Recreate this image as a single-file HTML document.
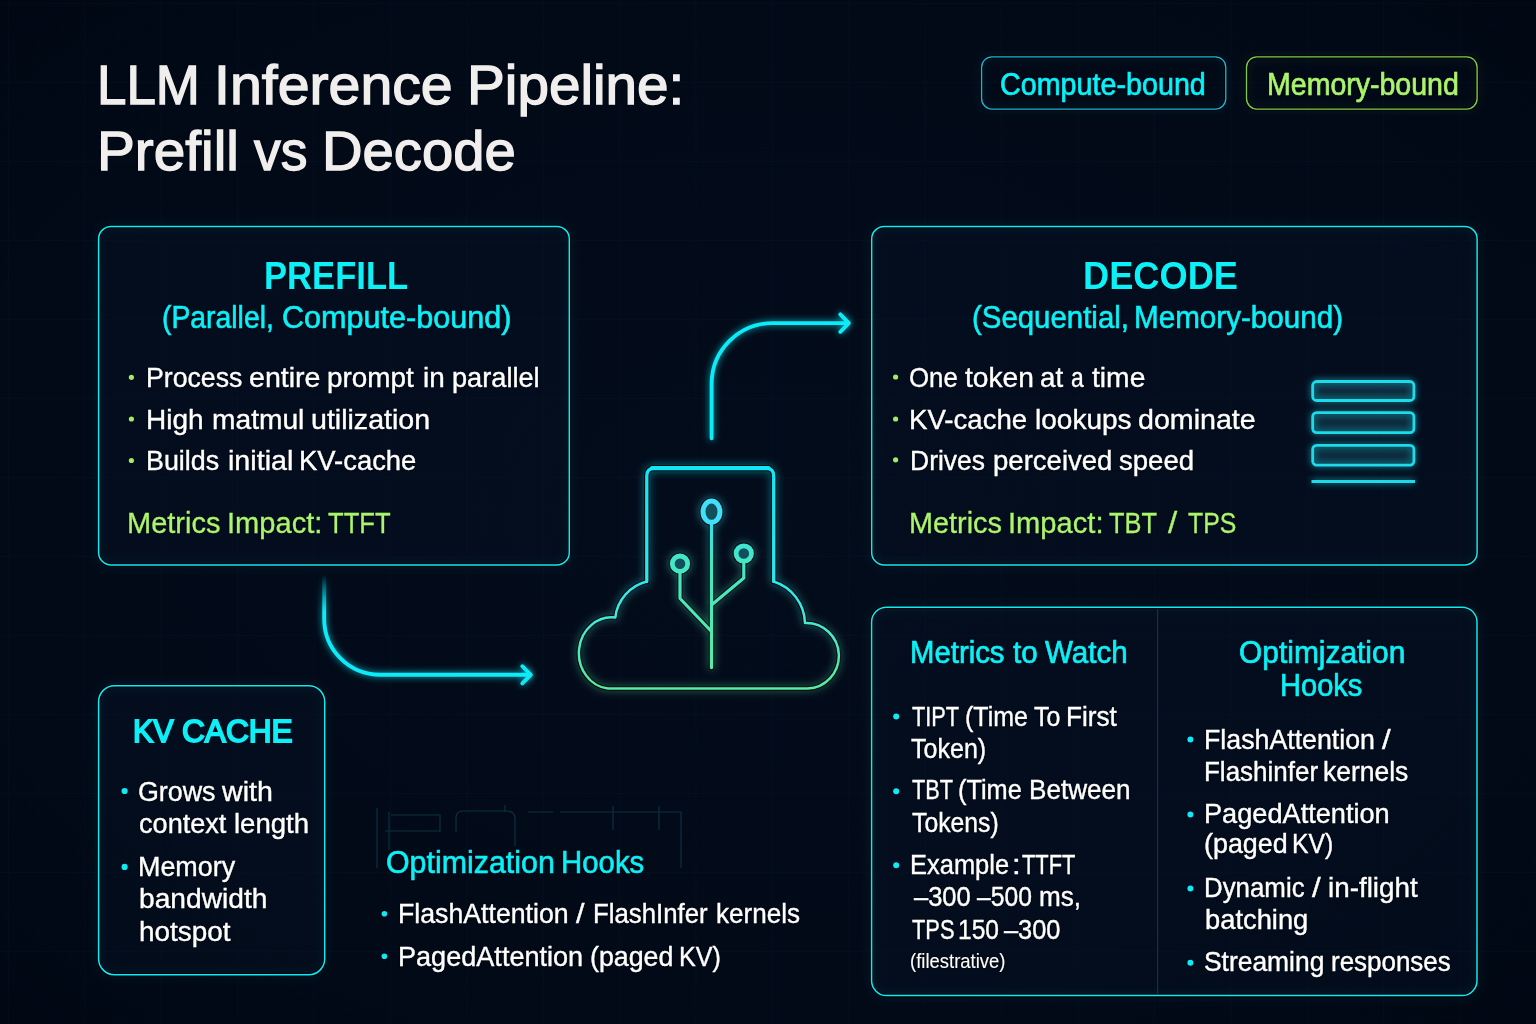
<!DOCTYPE html>
<html lang="en">
<head>
<meta charset="utf-8">
<title>LLM Inference Pipeline: Prefill vs Decode</title>
<style>
html,body{margin:0;padding:0;}
body{width:1536px;height:1024px;overflow:hidden;background:#020a18;position:relative;
  font-family:"Liberation Sans",sans-serif;}
#bg{position:absolute;left:0;top:0;width:1536px;height:1024px;
  background:
   linear-gradient(to right, rgba(30,110,170,.035) 1px, transparent 1px) 8px 0/76.4px 100%,
   linear-gradient(to bottom, rgba(30,110,170,.035) 1px, transparent 1px) 0 3px/100% 79px,
   radial-gradient(ellipse at 50% 50%, #030c1b 0%, #020a18 65%, #010814 100%);}
svg#art{position:absolute;left:0;top:0;width:1536px;height:1024px;overflow:visible}
.ln{position:absolute;left:0;width:1536px;height:0;white-space:pre;line-height:1;}
.ln span{position:absolute;top:0;white-space:pre;line-height:1;transform-origin:0 0;
  text-shadow:0 0 1.5px rgba(0,0,0,.9),0 0 2px rgba(0,0,0,.6);}
</style>
</head>
<body>
<div id="bg"></div>
<svg id="art" width="1536" height="1024" viewBox="0 0 1536 1024">
  <defs>
    <filter id="soft" x="-10%" y="-10%" width="120%" height="120%">
      <feGaussianBlur stdDeviation="4"/>
      <feComponentTransfer><feFuncA type="linear" slope=".2"/></feComponentTransfer>
    </filter>
    <filter id="halo" x="-30%" y="-30%" width="160%" height="160%">
      <feGaussianBlur stdDeviation="4"/>
      <feComponentTransfer><feFuncA type="linear" slope=".6"/></feComponentTransfer>
    </filter>
    <filter id="glow2" x="-30%" y="-30%" width="160%" height="160%">
      <feGaussianBlur stdDeviation="3.5" result="b"/>
      <feComponentTransfer in="b" result="b2"><feFuncA type="linear" slope=".8"/></feComponentTransfer>
      <feMerge><feMergeNode in="b2"/><feMergeNode in="SourceGraphic"/></feMerge>
    </filter>
    <linearGradient id="cg" gradientUnits="userSpaceOnUse" x1="0" y1="467" x2="0" y2="689">
      <stop offset="0" stop-color="#10e8f8"/>
      <stop offset=".5" stop-color="#2ce8ee"/>
      <stop offset=".7" stop-color="#48e8d4"/>
      <stop offset=".85" stop-color="#52e8b4"/>
      <stop offset="1" stop-color="#5aeaa0"/>
    </linearGradient>
    <linearGradient id="tg" gradientUnits="userSpaceOnUse" x1="0" y1="520" x2="0" y2="668">
      <stop offset="0" stop-color="#30e2f2"/>
      <stop offset=".25" stop-color="#44e6c8"/>
      <stop offset="1" stop-color="#5aeaa4"/>
    </linearGradient>
    <linearGradient id="fade" gradientUnits="userSpaceOnUse" x1="0" y1="575" x2="0" y2="612">
      <stop offset="0" stop-color="#0ceaf8" stop-opacity="0"/>
      <stop offset="1" stop-color="#0ceaf8" stop-opacity="1"/>
    </linearGradient>
  </defs>

  <!-- ghost art -->
  <g fill="none" stroke="#1d6f80" stroke-width="1.2" opacity=".38">
    <path d="M377 808 V868 M389 812 V850 M391 815 H440 V832 M385 831 H440 M456 832 V818 Q456 811 463 811 H507 Q515 811 515 819 V846 M505 805 V812 M528 812 H553 M560 812 H681 V868 M613 806 V830 M659 806 V830"/>
  </g>

  <!-- panels -->
  <g fill="rgba(8,22,42,.28)">
    <rect x="98.6" y="226.45" width="470.7" height="338.5" rx="12.5"/>
    <rect x="871.7" y="226.45" width="605.4" height="338.5" rx="12.5"/>
    <rect x="98.6" y="685.7" width="226.1" height="289.1" rx="16"/>
    <rect x="871.6" y="607.2" width="605.4" height="388.4" rx="15"/>
  </g>
  <g fill="none" stroke="#10e6f2" stroke-width="2" filter="url(#soft)">
    <rect x="98.6" y="226.45" width="470.7" height="338.5" rx="12.5"/>
    <rect x="871.7" y="226.45" width="605.4" height="338.5" rx="12.5"/>
    <rect x="98.6" y="685.7" width="226.1" height="289.1" rx="16"/>
    <rect x="871.6" y="607.2" width="605.4" height="388.4" rx="15"/>
  </g>
  <g fill="none" stroke="#000308" stroke-opacity=".9" stroke-width="3.6">
    <rect x="98.6" y="226.45" width="470.7" height="338.5" rx="12.5"/>
    <rect x="871.7" y="226.45" width="605.4" height="338.5" rx="12.5"/>
    <rect x="98.6" y="685.7" width="226.1" height="289.1" rx="16"/>
    <rect x="871.6" y="607.2" width="605.4" height="388.4" rx="15"/>
  </g>
  <g fill="none" stroke="#0cecf6" stroke-width="1.5">
    <rect x="98.6" y="226.45" width="470.7" height="338.5" rx="12.5"/>
    <rect x="871.7" y="226.45" width="605.4" height="338.5" rx="12.5"/>
    <rect x="98.6" y="685.7" width="226.1" height="289.1" rx="16"/>
    <rect x="871.6" y="607.2" width="605.4" height="388.4" rx="15"/>
  </g>
  <line x1="1157.6" y1="609" x2="1157.6" y2="994" stroke="#0f3244" stroke-width="1.2"/>

  <!-- badges -->
  <g fill="none" stroke-width="2" filter="url(#soft)">
    <rect x="981.6" y="56.8" width="244.2" height="52.3" rx="10.5" stroke="#16b6d4"/>
    <rect x="1246.5" y="56.8" width="230.6" height="52.3" rx="10.5" stroke="#80cc4a"/>
  </g>
  <g fill="none" stroke="#000308" stroke-opacity=".85" stroke-width="3.4">
    <rect x="981.6" y="56.8" width="244.2" height="52.3" rx="10.5"/>
    <rect x="1246.5" y="56.8" width="230.6" height="52.3" rx="10.5"/>
  </g>
  <g fill="none" stroke-width="1.35">
    <rect x="981.6" y="56.8" width="244.2" height="52.3" rx="10.5" stroke="#16b6d4"/>
    <rect x="1246.5" y="56.8" width="230.6" height="52.3" rx="10.5" stroke="#80cc4a"/>
  </g>

  <!-- bullets -->
  <g fill="#a2ec64" stroke="#000510" stroke-opacity=".7" stroke-width="1" paint-order="stroke">
    <circle cx="131.4" cy="377.3" r="2.6"/><circle cx="131.4" cy="419" r="2.6"/><circle cx="131.4" cy="460.5" r="2.6"/>
    <circle cx="895.6" cy="377" r="2.6"/><circle cx="895.6" cy="419" r="2.6"/><circle cx="895.6" cy="459.8" r="2.6"/>
  </g>
  <g fill="#10eaf6" stroke="#000510" stroke-opacity=".7" stroke-width="1" paint-order="stroke">
    <circle cx="124.6" cy="791" r="3.1"/><circle cx="124.6" cy="866.9" r="3.1"/>
    <circle cx="384.4" cy="913.8" r="2.8"/><circle cx="384.4" cy="956.3" r="2.8"/>
    <circle cx="896.2" cy="716.6" r="3"/><circle cx="896.2" cy="791.3" r="3"/><circle cx="896.2" cy="865.3" r="3"/>
    <circle cx="1190.4" cy="739.4" r="3"/><circle cx="1190.4" cy="814.5" r="3"/><circle cx="1190.4" cy="888.5" r="3"/><circle cx="1190.4" cy="962.8" r="3"/>
  </g>

  <!-- arrows -->
  <g fill="none" stroke="#0ceaf8" stroke-width="3.9" stroke-linecap="round" stroke-linejoin="round" filter="url(#glow2)">
    <path d="M711.6 438.2 V384 A61 61 0 0 1 772.6 323.1 H848"/>
    <path d="M840.3 314.4 L848.8 323.1 L840.3 331.8"/>
    <path d="M522.3 666.2 L530.8 674.8 L522.3 683.4"/>
  </g>
  <path d="M324.2 575 V619 A55.8 55.8 0 0 0 380 674.8 H530" fill="none" stroke="url(#fade)" stroke-width="3.9" stroke-linecap="butt" filter="url(#glow2)"/>

  <!-- stack icon -->
  <g fill="rgba(20,70,90,.35)" stroke="#1adcec" stroke-width="2.8" filter="url(#glow2)">
    <rect x="1312.7" y="381.5" width="101.2" height="19" rx="4"/>
    <rect x="1312.7" y="412.6" width="101.2" height="20" rx="4"/>
    <rect x="1312.7" y="445.4" width="101.2" height="19.7" rx="4"/>
    <path d="M1311.5 481.5 H1415"/>
  </g>

  <!-- cloud icon -->
  <g fill="none" stroke="url(#cg)" stroke-linecap="round" stroke-linejoin="round" filter="url(#halo)">
    <path d="M646.8 581.5 V476 Q646.8 468.1 654.7 468.1 H765.8 Q773.7 468.1 773.7 476 V581.5" stroke-width="4.3"/>
    <path d="M652 468.1 H768.5" stroke-width="5.1"/>
    <path d="M773.7 581.5 A45 45 0 0 1 805 623 A32.6 32.8 0 0 1 807.5 688.6 H608 A32.6 35.6 0 0 1 615.3 617.5 A42 42 0 0 1 646.8 581.5" stroke-width="3.5"/>
    <path d="M711.5 523 V667.5" stroke-width="4.3" stroke="url(#tg)"/>
    <path d="M680 573 V598.5 L711.5 631.5" stroke-width="4.2" stroke="url(#tg)"/>
    <path d="M743.8 563 V578 L711.5 605" stroke-width="4.2" stroke="url(#tg)"/>
    <ellipse cx="711.5" cy="511.7" rx="8.5" ry="10.6" stroke-width="6.0" stroke="#3fe0f8"/>
    <circle cx="680" cy="563.7" r="7.7" stroke-width="5.8" stroke="url(#tg)"/>
    <circle cx="743.8" cy="553.5" r="7.7" stroke-width="5.8" stroke="url(#tg)"/>
  </g>
  <g fill="none" stroke="#00040a" stroke-opacity=".75" stroke-linecap="round" stroke-linejoin="round">
    <path d="M646.8 581.5 V476 Q646.8 468.1 654.7 468.1 H765.8 Q773.7 468.1 773.7 476 V581.5" stroke-width="5.5"/>
    <path d="M652 468.1 H768.5" stroke-width="6.3"/>
    <path d="M773.7 581.5 A45 45 0 0 1 805 623 A32.6 32.8 0 0 1 807.5 688.6 H608 A32.6 35.6 0 0 1 615.3 617.5 A42 42 0 0 1 646.8 581.5" stroke-width="4.7"/>
    <path d="M711.5 523 V667.5" stroke-width="5.5"/>
    <path d="M680 573 V598.5 L711.5 631.5" stroke-width="5.4"/>
    <path d="M743.8 563 V578 L711.5 605" stroke-width="5.4"/>
    <ellipse cx="711.5" cy="511.7" rx="8.5" ry="10.6" stroke-width="7.2"/>
    <circle cx="680" cy="563.7" r="7.7" stroke-width="7.0"/>
    <circle cx="743.8" cy="553.5" r="7.7" stroke-width="7.0"/>
  </g>
  <g fill="none" stroke="url(#cg)" stroke-linecap="round" stroke-linejoin="round">
    <path d="M646.8 581.5 V476 Q646.8 468.1 654.7 468.1 H765.8 Q773.7 468.1 773.7 476 V581.5" stroke-width="3.3"/>
    <path d="M652 468.1 H768.5" stroke-width="4.1"/>
    <path d="M773.7 581.5 A45 45 0 0 1 805 623 A32.6 32.8 0 0 1 807.5 688.6 H608 A32.6 35.6 0 0 1 615.3 617.5 A42 42 0 0 1 646.8 581.5" stroke-width="2.5"/>
    <path d="M711.5 523 V667.5" stroke-width="3.3" stroke="url(#tg)"/>
    <path d="M680 573 V598.5 L711.5 631.5" stroke-width="3.2" stroke="url(#tg)"/>
    <path d="M743.8 563 V578 L711.5 605" stroke-width="3.2" stroke="url(#tg)"/>
    <ellipse cx="711.5" cy="511.7" rx="8.5" ry="10.6" stroke-width="5.0" stroke="#3fe0f8" fill="#124e5c"/>
    <circle cx="680" cy="563.7" r="7.7" stroke-width="4.8" fill="#124e5c" stroke="url(#tg)"/>
    <circle cx="743.8" cy="553.5" r="7.7" stroke-width="4.8" fill="#124e5c" stroke="url(#tg)"/>
  </g>
</svg>
<div class="ln" style="top:57px;font-size:56.4px;color:#f1efee;-webkit-text-stroke:1.35px #f1efee;"><span style="left:97.15px;transform:scaleX(0.9382)">LLM</span> <span style="left:214.04px;transform:scaleX(1.0153)">Inference</span> <span style="left:467.08px;transform:scaleX(1.0048)">Pipeline:</span></div>
<div class="ln" style="top:123px;font-size:56.4px;color:#f1efee;-webkit-text-stroke:1.35px #f1efee;"><span style="left:96.98px;transform:scaleX(1.0060)">Prefill</span> <span style="left:254.45px;transform:scaleX(0.9482)">vs</span> <span style="left:322.01px;transform:scaleX(0.9968)">Decode</span></div>
<div class="ln" style="top:69px;font-size:31.4px;color:#08f2fa;-webkit-text-stroke:0.7px #08f2fa;"><span style="left:1000.29px;transform:scaleX(0.9143)">Compute-bound</span></div>
<div class="ln" style="top:69px;font-size:31.4px;color:#aaf46e;-webkit-text-stroke:0.7px #aaf46e;"><span style="left:1267.38px;transform:scaleX(0.9087)">Memory-bound</span></div>
<div class="ln" style="top:256px;font-size:39.3px;font-weight:700;color:#0cf0f8;"><span style="left:264.34px;transform:scaleX(0.8807)">PREFILL</span></div>
<div class="ln" style="top:302px;font-size:30.6px;color:#0cf0f8;-webkit-text-stroke:0.6px #0cf0f8;"><span style="left:161.87px;transform:scaleX(0.9263)">(Parallel,</span> <span style="left:281.80px;transform:scaleX(0.9996)">Compute-bound)</span></div>
<div class="ln" style="top:363px;font-size:28.3px;color:#ffffff;-webkit-text-stroke:0.4px #ffffff;"><span style="left:146.21px;transform:scaleX(0.9430)">Process</span> <span style="left:249.29px;transform:scaleX(1.0101)">entire</span> <span style="left:327.12px;transform:scaleX(0.9841)">prompt</span> <span style="left:422.72px;transform:scaleX(0.9850)">in</span> <span style="left:452.24px;transform:scaleX(0.9607)">parallel</span></div>
<div class="ln" style="top:405px;font-size:28.3px;color:#ffffff;-webkit-text-stroke:0.4px #ffffff;"><span style="left:146.12px;transform:scaleX(0.9891)">High</span> <span style="left:211.80px;transform:scaleX(0.9956)">matmul</span> <span style="left:311.19px;transform:scaleX(1.0095)">utilization</span></div>
<div class="ln" style="top:446px;font-size:28.3px;color:#ffffff;-webkit-text-stroke:0.4px #ffffff;"><span style="left:146.20px;transform:scaleX(0.9493)">Builds</span> <span style="left:227.69px;transform:scaleX(1.0129)">initial</span> <span style="left:298.96px;transform:scaleX(0.9689)">KV-cache</span></div>
<div class="ln" style="top:509px;font-size:28.8px;color:#aaf46e;-webkit-text-stroke:0.3px #aaf46e;"><span style="left:126.99px;transform:scaleX(1.0067)">Metrics</span> <span style="left:227.38px;transform:scaleX(1.0100)">Impact:</span> <span style="left:328.40px;transform:scaleX(0.8886)">TTFT</span></div>
<div class="ln" style="top:256px;font-size:39.3px;font-weight:700;color:#0cf0f8;"><span style="left:1082.96px;transform:scaleX(0.9218)">DECODE</span></div>
<div class="ln" style="top:302px;font-size:30.6px;color:#0cf0f8;-webkit-text-stroke:0.6px #0cf0f8;"><span style="left:972.04px;transform:scaleX(0.9613)">(Sequential,</span> <span style="left:1134.26px;transform:scaleX(0.9685)">Memory-bound)</span></div>
<div class="ln" style="top:363px;font-size:28.3px;color:#ffffff;-webkit-text-stroke:0.4px #ffffff;"><span style="left:909.39px;transform:scaleX(0.9115)">One</span> <span style="left:964.70px;transform:scaleX(0.9956)">token</span> <span style="left:1039.92px;transform:scaleX(0.9783)">at</span> <span style="left:1070.79px;transform:scaleX(0.8067)">a</span> <span style="left:1091.90px;transform:scaleX(0.9981)">time</span></div>
<div class="ln" style="top:405px;font-size:28.3px;color:#ffffff;-webkit-text-stroke:0.4px #ffffff;"><span style="left:909.45px;transform:scaleX(0.9756)">KV-cache</span> <span style="left:1034.91px;transform:scaleX(0.9906)">lookups</span> <span style="left:1137.99px;transform:scaleX(1.0113)">dominate</span></div>
<div class="ln" style="top:446px;font-size:28.3px;color:#ffffff;-webkit-text-stroke:0.4px #ffffff;"><span style="left:909.83px;transform:scaleX(0.9359)">Drives</span> <span style="left:993.13px;transform:scaleX(0.9733)">perceived</span> <span style="left:1119.40px;transform:scaleX(0.9737)">speed</span></div>
<div class="ln" style="top:509px;font-size:28.8px;color:#aaf46e;-webkit-text-stroke:0.3px #aaf46e;"><span style="left:908.80px;transform:scaleX(1.0011)">Metrics</span> <span style="left:1007.58px;transform:scaleX(1.0111)">Impact:</span> <span style="left:1108.50px;transform:scaleX(0.8815)">TBT</span> <span style="left:1167.55px;transform:scaleX(1.1500)">/</span> <span style="left:1187.60px;transform:scaleX(0.8618)">TPS</span></div>
<div class="ln" style="top:716px;font-size:31.6px;color:#0cf0f8;-webkit-text-stroke:1.8px #0cf0f8;"><span style="left:133.03px;transform:scaleX(0.9667)">KV</span> <span style="left:182.40px;transform:scaleX(1.0009)">CACHE</span></div>
<div class="ln" style="top:777px;font-size:28.4px;color:#ffffff;-webkit-text-stroke:0.4px #ffffff;"><span style="left:138.16px;transform:scaleX(0.9450)">Grows</span> <span style="left:222.20px;transform:scaleX(1.0061)">with</span></div>
<div class="ln" style="top:809px;font-size:28.4px;color:#ffffff;-webkit-text-stroke:0.4px #ffffff;"><span style="left:138.65px;transform:scaleX(0.9549)">context</span> <span style="left:233.73px;transform:scaleX(0.9707)">length</span></div>
<div class="ln" style="top:852px;font-size:28.4px;color:#ffffff;-webkit-text-stroke:0.4px #ffffff;"><span style="left:138.30px;transform:scaleX(0.9475)">Memory</span></div>
<div class="ln" style="top:884px;font-size:28.4px;color:#ffffff;-webkit-text-stroke:0.4px #ffffff;"><span style="left:139.21px;transform:scaleX(0.9921)">bandwidth</span></div>
<div class="ln" style="top:917px;font-size:28.4px;color:#ffffff;-webkit-text-stroke:0.4px #ffffff;"><span style="left:139.22px;transform:scaleX(0.9828)">hotspot</span></div>
<div class="ln" style="top:847px;font-size:31.8px;color:#0cf0f8;-webkit-text-stroke:0.6px #0cf0f8;"><span style="left:385.64px;transform:scaleX(0.9552)">Optimization</span> <span style="left:560.85px;transform:scaleX(0.9239)">Hooks</span></div>
<div class="ln" style="top:900px;font-size:28px;color:#ffffff;-webkit-text-stroke:0.4px #ffffff;"><span style="left:398.49px;transform:scaleX(0.9534)">FlashAttention</span> <span style="left:576.20px;transform:scaleX(1.0875)">/</span> <span style="left:593.36px;transform:scaleX(0.9203)">FlashInfer</span> <span style="left:715.97px;transform:scaleX(0.9315)">kernels</span></div>
<div class="ln" style="top:943px;font-size:28px;color:#ffffff;-webkit-text-stroke:0.4px #ffffff;"><span style="left:398.47px;transform:scaleX(0.9670)">PagedAttention</span> <span style="left:589.94px;transform:scaleX(0.9565)">(paged</span> <span style="left:679.11px;transform:scaleX(0.8953)">KV)</span></div>
<div class="ln" style="top:638px;font-size:30.8px;color:#0cf0f8;-webkit-text-stroke:0.7px #0cf0f8;"><span style="left:909.69px;transform:scaleX(0.9526)">Metrics</span> <span style="left:1012.90px;transform:scaleX(0.9600)">to</span> <span style="left:1045.30px;transform:scaleX(0.9600)">Watch</span></div>
<div class="ln" style="top:703px;font-size:27.2px;color:#ffffff;-webkit-text-stroke:0.4px #ffffff;"><span style="left:911.80px;transform:scaleX(0.8000)">TIPT</span> <span style="left:964.68px;transform:scaleX(0.9179)">(Time</span> <span style="left:1034.00px;transform:scaleX(0.9179)">To</span> <span style="left:1066.47px;transform:scaleX(0.9627)">First</span></div>
<div class="ln" style="top:735px;font-size:27.2px;color:#ffffff;-webkit-text-stroke:0.4px #ffffff;"><span style="left:910.50px;transform:scaleX(0.9213)">Token)</span></div>
<div class="ln" style="top:776px;font-size:27.2px;color:#ffffff;-webkit-text-stroke:0.4px #ffffff;"><span style="left:911.50px;transform:scaleX(0.8000)">TBT</span> <span style="left:958.07px;transform:scaleX(0.9313)">(Time</span> <span style="left:1028.68px;transform:scaleX(0.9602)">Between</span></div>
<div class="ln" style="top:809px;font-size:27.2px;color:#ffffff;-webkit-text-stroke:0.4px #ffffff;"><span style="left:912.20px;transform:scaleX(0.9106)">Tokens)</span></div>
<div class="ln" style="top:851px;font-size:27.2px;color:#ffffff;-webkit-text-stroke:0.4px #ffffff;"><span style="left:910.33px;transform:scaleX(0.9369)">Example</span> <span style="left:1011.60px;transform:scaleX(1.1500)">:</span> <span style="left:1022.20px;transform:scaleX(0.8045)">TTFT</span></div>
<div class="ln" style="top:883px;font-size:27.2px;color:#ffffff;-webkit-text-stroke:0.4px #ffffff;"><span style="left:914.00px;transform:scaleX(0.9383)">–300</span> <span style="left:977.20px;transform:scaleX(0.9067)">–500</span> <span style="left:1038.64px;transform:scaleX(0.9610)">ms,</span></div>
<div class="ln" style="top:916px;font-size:27.2px;color:#ffffff;-webkit-text-stroke:0.4px #ffffff;"><span style="left:911.80px;transform:scaleX(0.8038)">TPS</span> <span style="left:958.00px;transform:scaleX(0.9023)">150</span> <span style="left:1004.20px;transform:scaleX(0.9333)">–300</span></div>
<div class="ln" style="top:951px;font-size:20.7px;color:#ffffff;-webkit-text-stroke:0.12px #ffffff;"><span style="left:909.71px;transform:scaleX(0.8933)">(filestrative)</span></div>
<div class="ln" style="top:637px;font-size:31px;color:#0cf0f8;-webkit-text-stroke:0.7px #0cf0f8;"><span style="left:1239.23px;transform:scaleX(0.9653)">Optimjzation</span></div>
<div class="ln" style="top:670px;font-size:31px;color:#0cf0f8;-webkit-text-stroke:0.7px #0cf0f8;"><span style="left:1279.82px;transform:scaleX(0.9376)">Hooks</span></div>
<div class="ln" style="top:726px;font-size:27.2px;color:#ffffff;-webkit-text-stroke:0.4px #ffffff;"><span style="left:1203.83px;transform:scaleX(0.9836)">FlashAttention</span> <span style="left:1382.45px;transform:scaleX(1.1500)">/</span></div>
<div class="ln" style="top:758px;font-size:27.2px;color:#ffffff;-webkit-text-stroke:0.4px #ffffff;"><span style="left:1203.89px;transform:scaleX(0.9556)">Flashinfer</span> <span style="left:1323.13px;transform:scaleX(0.9733)">kernels</span></div>
<div class="ln" style="top:800px;font-size:27.2px;color:#ffffff;-webkit-text-stroke:0.4px #ffffff;"><span style="left:1203.80px;transform:scaleX(0.9989)">PagedAttention</span></div>
<div class="ln" style="top:830px;font-size:27.2px;color:#ffffff;-webkit-text-stroke:0.4px #ffffff;"><span style="left:1204.11px;transform:scaleX(0.9878)">(paged</span> <span style="left:1292.28px;transform:scaleX(0.9095)">KV)</span></div>
<div class="ln" style="top:874px;font-size:27.2px;color:#ffffff;-webkit-text-stroke:0.4px #ffffff;"><span style="left:1203.90px;transform:scaleX(0.9510)">Dynamic</span> <span style="left:1312.45px;transform:scaleX(1.1500)">/</span> <span style="left:1327.78px;transform:scaleX(1.0241)">in-flight</span></div>
<div class="ln" style="top:906px;font-size:27.2px;color:#ffffff;-webkit-text-stroke:0.4px #ffffff;"><span style="left:1204.80px;transform:scaleX(1.0050)">batching</span></div>
<div class="ln" style="top:948px;font-size:27.2px;color:#ffffff;-webkit-text-stroke:0.4px #ffffff;"><span style="left:1204.13px;transform:scaleX(0.9713)">Streaming</span> <span style="left:1331.35px;transform:scaleX(0.9548)">responses</span></div>
</body>
</html>
